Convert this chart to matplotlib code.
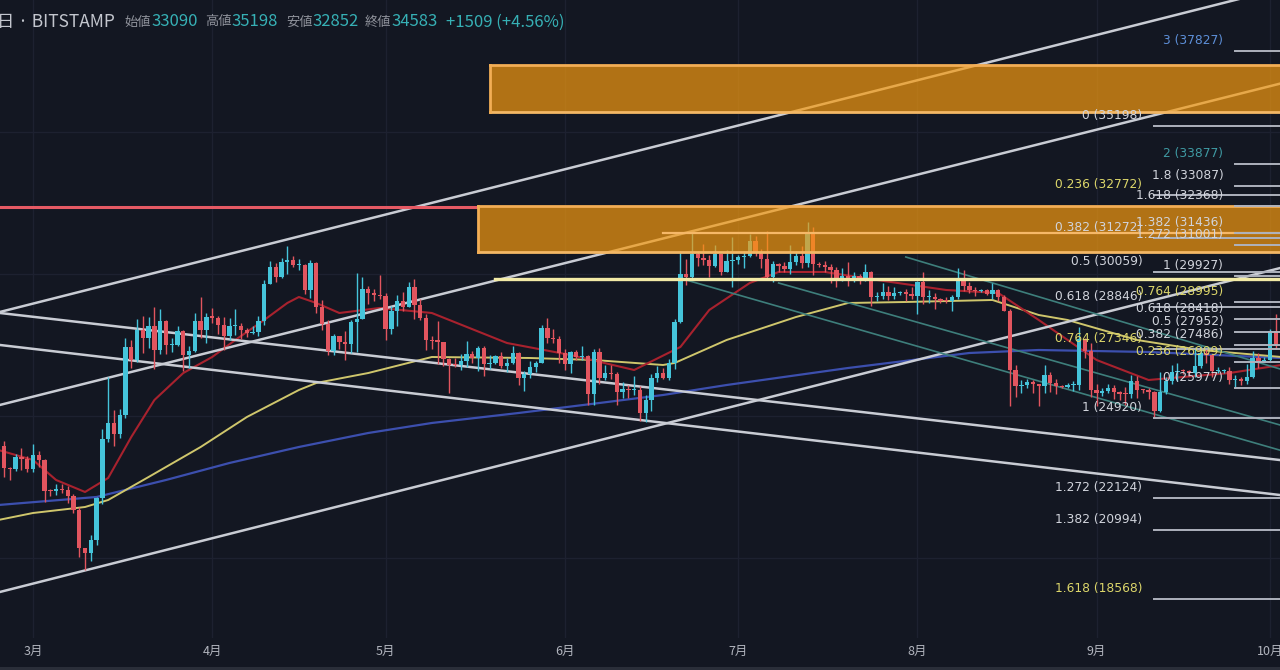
import numpy as np
import pandas as pd
import matplotlib
matplotlib.use('Agg')
import matplotlib.pyplot as plt
import matplotlib.dates as mdates
from matplotlib.patches import Rectangle

plt.rcParams['font.family'] = ['Noto Sans CJK JP', 'DejaVu Sans']

# ---- 日足 BTC/USD (BITSTAMP) 2023-02-23 ～ 2023-10-02 ----
start_date = '2023-02-23'
first_open = 24180
closes = [
    23940, 23180, 23150, 23550, 23490, 23140,
    23630, 23470, 22360, 22350, 22430, 22410, 22200, 21700, 20360, 20190,
    20630, 22130, 24200, 24750, 24380, 25050, 27420, 26970, 28040, 27760,
    28170, 27310, 28330, 27490, 27490, 27990, 27140, 27270, 28350, 28030, 28470,
    28460, 28200, 27800, 28170, 28170, 28040, 27920, 27950, 28330, 29650,
    30230, 29890, 30400, 30490, 30320, 30320, 29430, 30380, 28820, 28250,
    27270, 27820, 27590, 27520, 28300, 28420, 29470, 29340, 29250, 29230,
    28070, 28680, 29030, 28850, 29530, 28900, 28450, 27690, 27650, 27620,
    26990, 26800, 26780, 26920, 27170, 27030, 27400, 26830, 26880, 27100,
    26750, 26850, 27220, 26330, 26480, 26720, 26870, 28080, 27740, 27700, 27220,
    26820, 27250, 27070, 27120, 25760, 27240, 26350, 26500, 26480, 25850,
    25940, 25900, 25920, 25120, 25580, 26340, 26510, 26340, 26850, 28310,
    30010, 29890, 30700, 30550, 30480, 30270, 30690, 30080, 30450, 30480,
    30590, 30620, 31160, 30770, 30510, 29900, 30350, 30290, 30170, 30420,
    30620, 30390, 31470, 30330, 30300, 30250, 30140, 29860, 29910, 29800,
    29910, 29800, 30080, 29180, 29230, 29350, 29210, 29320, 29350, 29280, 29230,
    29700, 29180, 29190, 29110, 29060, 29050, 29180, 29770, 29560, 29430,
    29400, 29420, 29300, 29420, 29170, 28700, 26620, 26050, 26100, 26190,
    26130, 26040, 26430, 26160, 26060, 26010, 26090, 26100, 27720, 27300, 25930,
    25800, 25870, 25970, 25830, 25790, 25760, 26240, 25910, 25900, 25840,
    25160, 25840, 26230, 26540, 26600, 26570, 26530, 26760, 27210, 27130,
    26570, 26580, 26580, 26250, 26300, 26220, 26370, 27030, 26910, 26970,
    27990, 27500,
]
highs = [
    24600, 24120, 23220, 23680, 23880, 23600,
    24000, 23780, 23480, 22420, 22620, 22600, 22540, 22270, 21810, 20360,
    20830, 22170, 24530, 26380, 25230, 25250, 27750, 27680, 28400, 28520,
    28480, 28850, 28750, 28380, 27750, 28180, 28020, 27470, 28640, 29170, 28640,
    28800, 28520, 28490, 28430, 28760, 28260, 28090, 28160, 28520, 29770,
    30460, 30390, 30570, 30990, 30610, 30530, 30340, 30480, 30410, 29090,
    28370, 27870, 27820, 28000, 28380, 30020, 29880, 29560, 29450, 29960,
    29330, 28860, 29260, 29360, 29700, 29830, 29120, 28600, 27830, 28330,
    27620, 27050, 27040, 27180, 27650, 27270, 27480, 27470, 27130, 27150,
    27260, 27040, 27470, 27260, 26580, 26930, 26930, 28200, 28450, 28050, 27830,
    27350, 27300, 27320, 27450, 27130, 27360, 27380, 26800, 26780, 26540,
    26210, 26080, 26420, 26070, 25740, 26480, 26770, 26680, 26990, 28400,
    30800, 30510, 31430, 30800, 31050, 30660, 31000, 30710, 30840, 31280,
    30660, 30790, 31390, 31330, 30880, 31500, 30450, 30380, 30430, 31030,
    30800, 30980, 31810, 31630, 30400, 30440, 30340, 30230, 30190, 30420,
    30050, 29990, 30340, 30100, 29350, 29690, 29570, 29530, 29410, 29450, 29520,
    29740, 30050, 29420, 29320, 29140, 29170, 29240, 30200, 30150, 29720,
    29530, 29480, 29460, 29690, 29470, 29240, 28770, 26800, 26270, 26290,
    26250, 26140, 26790, 26560, 26300, 26090, 26170, 26220, 28140, 27760, 27580,
    26130, 25970, 26110, 26090, 25870, 26020, 26430, 26400, 25940, 25980,
    25890, 26550, 26390, 26800, 26880, 26640, 26620, 27410, 27480, 27390,
    27160, 26740, 26640, 26730, 26440, 26390, 26830, 27290, 27230, 27080,
    28070, 28600,
]
lows = [
    23600, 22870, 22750, 23070, 23110, 23020,
    23030, 23200, 21970, 22200, 22210, 22280, 21930, 21600, 20060, 19570,
    19920, 20450, 21900, 24090, 23950, 24230, 24930, 26690, 26910, 27230,
    27400, 26640, 27190, 27180, 27260, 27460, 26570, 26680, 27250, 27730, 27560,
    28260, 27870, 27310, 27670, 27840, 27720, 27790, 27880, 27820, 28190,
    29650, 29700, 29850, 29990, 30250, 30150, 29280, 29140, 28620, 28020,
    27150, 27150, 27360, 26970, 27230, 27250, 28400, 28930, 29060, 29120,
    27680, 27880, 28150, 28700, 28820, 28420, 28370, 27310, 27360, 26830,
    26750, 25820, 26710, 26610, 26740, 26860, 26600, 26400, 26660, 26840,
    26700, 26560, 26830, 26090, 25880, 26340, 26560, 26860, 27560, 27560, 26860,
    26610, 26530, 26960, 26970, 25400, 25400, 26140, 26280, 26310, 25380,
    25620, 25630, 25730, 24830, 24800, 25180, 26180, 26290, 26260, 26650,
    28280, 29610, 29810, 30290, 30310, 29900, 30230, 29950, 30050, 29520,
    30330, 30190, 30600, 30640, 30210, 29850, 29710, 30060, 30080, 29990,
    30300, 30210, 30250, 29960, 30250, 30080, 29670, 29520, 29750, 29570,
    29730, 29640, 29750, 28880, 29030, 29110, 29080, 29130, 29260, 29030, 29110,
    28590, 28950, 28970, 28760, 28980, 28990, 28710, 29110, 29380, 29330,
    29230, 29360, 29260, 29100, 29060, 28700, 25350, 25680, 25800, 25970,
    25810, 25350, 25800, 25860, 25770, 25970, 25990, 25880, 25920, 27030, 25660,
    25340, 25720, 25810, 25610, 25580, 25390, 25630, 25650, 25810, 25600,
    24920, 25130, 25780, 26130, 26240, 26480, 26420, 26390, 26680, 26880,
    26360, 26500, 26530, 26130, 25990, 26100, 26120, 26330, 26680, 26900,
    26940, 27350,
]

# ---- 移動平均線（チャートから読み取り） ----
ma_red_dates = ['2023-02-23', '2023-03-01', '2023-03-05', '2023-03-10', '2023-03-14',
                '2023-03-18', '2023-03-22', '2023-03-27', '2023-04-01', '2023-04-05',
                '2023-04-10', '2023-04-14', '2023-04-16', '2023-04-19', '2023-04-23',
                '2023-04-30', '2023-05-09', '2023-05-22', '2023-06-02', '2023-06-13',
                '2023-06-21', '2023-06-26', '2023-07-03', '2023-07-08', '2023-07-16',
                '2023-07-25', '2023-08-06', '2023-08-15', '2023-08-22', '2023-09-01',
                '2023-09-10', '2023-09-16', '2023-09-24', '2023-10-03']
ma_red_vals = [23806, 23455, 22751, 22330, 22822, 24263, 25564, 26513, 27076, 27674,
               28377, 28975, 29186, 28975, 28623, 28800, 28623, 27568, 27146, 26619,
               27428, 28729, 29678, 30065, 30065, 29784, 29432, 29327, 28377, 26971,
               26268, 26373, 26513, 26795]
ma_yel_dates = ['2023-02-23', '2023-03-01', '2023-03-10', '2023-03-14', '2023-03-21',
                '2023-03-30', '2023-04-07', '2023-04-16', '2023-04-19', '2023-04-28',
                '2023-05-09', '2023-05-26', '2023-06-06', '2023-06-18', '2023-06-20',
                '2023-06-29', '2023-07-11', '2023-07-20', '2023-07-30', '2023-08-14',
                '2023-08-22', '2023-08-27', '2023-09-08', '2023-09-19', '2023-10-03']
ma_yel_vals = [21345, 21591, 21802, 22048, 22857, 23911, 24966, 25916, 26162, 26513,
               27076, 27041, 26971, 26795, 26865, 27674, 28482, 28975, 29010, 29080,
               28553, 28377, 27674, 27322, 27076]
ma_blue_dates = ['2023-02-23', '2023-03-12', '2023-03-24', '2023-04-04', '2023-04-16',
                 '2023-04-28', '2023-05-09', '2023-05-24', '2023-06-07', '2023-06-18',
                 '2023-06-29', '2023-07-20', '2023-08-10', '2023-08-22', '2023-09-10',
                 '2023-10-03']
ma_blue_vals = [21872, 22154, 22751, 23350, 23912, 24404, 24756, 25107, 25459, 25740,
                26091, 26689, 27217, 27322, 27252, 27041]

# ---- トレンドライン (始点日, 始点価格, 終点日, 終点価格) ----
white_lines = [
    ('2023-02-23', 28645, '2023-10-03', 40040),
    ('2023-02-23', 25376, '2023-10-03', 36700),
    ('2023-02-23', 18800, '2023-10-03', 30216),
    ('2023-02-23', 28630, '2023-10-03', 23447),
    ('2023-02-23', 27505, '2023-10-03', 22217),
]
teal_lines = [
    ('2023-06-22', 29783, '2023-10-03', 23785),
    ('2023-07-08', 29678, '2023-10-03', 24671),
    ('2023-07-30', 30592, '2023-10-03', 26640),
]

# ---- 水平線・レジスタンスゾーン ----
zone_upper = ('2023-05-19', 35690, 37343)
zone_lower = ('2023-05-17', 30768, 32385)
red_level = 32350
yellow_level = ('2023-05-20', 29818)
orange_level = ('2023-06-18', 31436)

# ---- フィボナッチ ----
fibA_start = '2023-09-11'
fibA_levels = ['0', '0.236', '0.382', '0.5', '0.618', '0.764', '1', '1.272', '1.382', '1.618']
fibA_prices = [35198, 32772, 31272, 30059, 28846, 27346, 24920, 22124, 20994, 18568]
fibB_start = '2023-09-25'
fibB_levels = ['0', '0.236', '0.382', '0.5', '0.618', '0.764', '1', '1.272', '1.382',
               '1.618', '1.8', '2', '3']
fibB_prices = [25977, 26909, 27486, 27952, 28418, 28995, 29927, 31001, 31436,
               32368, 33087, 33877, 37827]

header_parts = [('日 · BITSTAMP', 'name'), ('始値', 'lab'), ('33090', 'val'),
                ('高値', 'lab'), ('35198', 'val'), ('安値', 'lab'), ('32852', 'val'),
                ('終値', 'lab'), ('34583', 'val'), ('+1509 (+4.56%)', 'val')]
month_labels = ['3月', '4月', '5月', '6月', '7月', '8月', '9月', '10月']

BG = '#131722'
UP = '#45c4da'
DOWN = '#e2555f'
WHITE_LINE = '#c9ccd4'
YEL = '#dcd66a'
TXT = '#d1d4dc'

fig = plt.figure(figsize=(12.8, 6.7), dpi=100, facecolor=BG)
ax = fig.add_axes([0, 32 / 670, 1, 638 / 670])
ax.set_facecolor(BG)
for s in ax.spines.values():
    s.set_visible(False)

d = mdates.date2num
mar1 = d(pd.Timestamp('2023-03-01'))
ax.set_xlim(mar1 - 5.71, mar1 + 215.74)
ax.set_ylim(17196, 39628)
xmax = mar1 + 215.74

# grid
month_x = [d(pd.Timestamp(f'2023-{m:02d}-01')) for m in range(3, 11)]
for mx in month_x:
    ax.axvline(mx, color='#1d2130', lw=1, zorder=0)
for gy in [20000, 25000, 30000, 35000]:
    ax.axhline(gy, color='#1d2130', lw=1, zorder=0)

ax.set_yticks([])
ax.set_xticks(month_x)
ax.set_xticklabels(month_labels)
ax.tick_params(axis='x', length=0, colors='#b2b5be', labelsize=9, pad=5)

# moving averages
ax.plot([d(pd.Timestamp(t)) for t in ma_blue_dates], ma_blue_vals, color='#3c4fae', lw=1.6, zorder=2)
ax.plot([d(pd.Timestamp(t)) for t in ma_yel_dates], ma_yel_vals, color='#cfc66c', lw=1.4, zorder=2)
ax.plot([d(pd.Timestamp(t)) for t in ma_red_dates], ma_red_vals, color='#a8222e', lw=1.5, zorder=2)

# trend lines
for t0, p0, t1, p1 in white_lines:
    ax.plot([d(pd.Timestamp(t0)), d(pd.Timestamp(t1))], [p0, p1], color=WHITE_LINE, lw=1.8, zorder=2.5)
for t0, p0, t1, p1 in teal_lines:
    ax.plot([d(pd.Timestamp(t0)), d(pd.Timestamp(t1))], [p0, p1], color='#3e7f7c', lw=1.2, zorder=2.5)

# candles
dates = pd.date_range(start_date, periods=len(closes), freq='D')
x = d(dates)
o = np.array([first_open] + closes[:-1])
c = np.array(closes)
h = np.array(highs)
l = np.array(lows)
col = np.where(c >= o, UP, DOWN)
ax.vlines(x, l, h, colors=col, lw=1, zorder=3)
ax.bar(x, np.maximum(np.abs(c - o), 40), bottom=np.minimum(o, c), width=0.75,
       color=col, linewidth=0, zorder=3)

# zones
for t0, lo, hi in [zone_upper, zone_lower]:
    x0 = d(pd.Timestamp(t0))
    ax.add_patch(Rectangle((x0, lo), xmax - x0 + 5, hi - lo, facecolor='#f59a10',
                           alpha=0.7, edgecolor='none', zorder=4))
    ax.plot([x0, xmax + 5], [hi, hi], color='#f3ae55', lw=2, zorder=4.1)
    ax.plot([x0, xmax + 5], [lo, lo], color='#f3b765', lw=2, zorder=4.1)
    ax.plot([x0, x0], [lo, hi], color='#f3ae55', lw=2, zorder=4.1)

ax.plot([mar1 - 10, d(pd.Timestamp(zone_lower[0]))], [red_level, red_level],
        color='#e65a64', lw=2.2, zorder=4)
ax.plot([d(pd.Timestamp(yellow_level[0])), xmax + 5], [yellow_level[1]] * 2,
        color='#f2eaa6', lw=2.4, zorder=4.2)
ax.plot([d(pd.Timestamp(orange_level[0])), xmax + 5], [orange_level[1]] * 2,
        color='#f6b868', lw=1.6, zorder=4.2)

# fibonacci levels
def fib_color(name, lv):
    if name == 'A' and lv in ('0.236', '0.764', '1.618'):
        return YEL
    if name == 'B':
        if lv in ('0.764', '0.236'):
            return YEL
        if lv == '3':
            return '#5d8fd8'
        if lv == '2':
            return '#3f9aa3'
    return TXT

for name, st, levels, prices, off in [('A', fibA_start, fibA_levels, fibA_prices, -12),
                                      ('B', fibB_start, fibB_levels, fibB_prices, -12)]:
    x0 = d(pd.Timestamp(st))
    for lv, pr in zip(levels, prices):
        ax.plot([x0, xmax + 5], [pr, pr], color='#aeb2bd', lw=1.4, zorder=5)
        ax.annotate(f'{lv} ({pr})', (x0, pr), xytext=(off, 4), textcoords='offset pixels',
                    ha='right', va='bottom', fontsize=8.8, color=fib_color(name, lv),
                    family=['DejaVu Sans'], zorder=6)

# header
xpos = [-3, 124, 151, 205, 231, 286, 312, 365, 391, 446]
hcol = {'name': '#c3c6ce', 'lab': '#8f929b', 'val': '#36b0b5'}
hsize = {'name': 12.5, 'lab': 9.5, 'val': 12}
for (s, kind), px in zip(header_parts, xpos):
    fig.text(px / 1280, 1 - 22 / 670, s, color=hcol[kind], fontsize=hsize[kind],
             va='center', ha='left')

fig.patches.append(Rectangle((0, 0), 1, 3 / 670, transform=fig.transFigure,
                             facecolor='#2a2e39', edgecolor='none'))

fig.savefig('out.png', dpi=100, facecolor=BG)
